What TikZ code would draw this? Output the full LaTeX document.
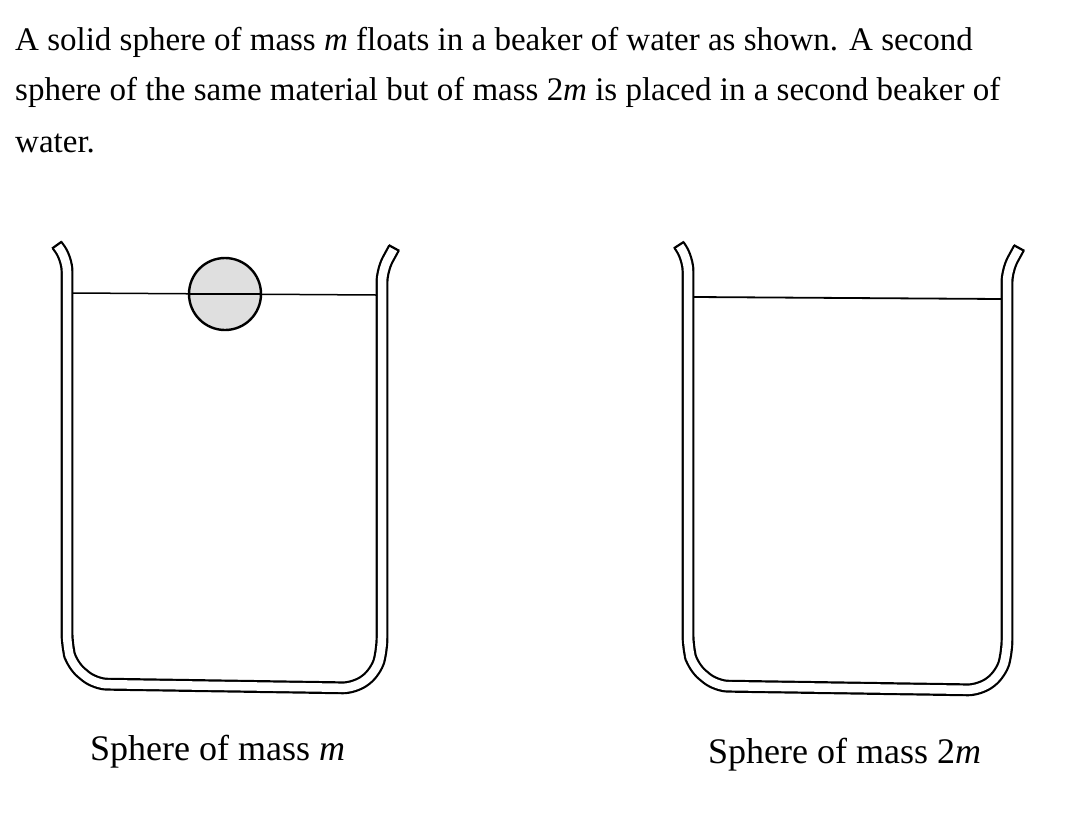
\documentclass[tikz,border=0pt]{standalone}
\usepackage{fontspec}
\setmainfont{Liberation Serif}
\usetikzlibrary{calc}
\begin{document}
\begin{tikzpicture}[x=1pt,y=-1pt,
  wall/.style={double=white,double distance=8.5pt,line width=2.2pt,line join=round},
  rimcap/.style={line width=2.2pt},
  txt/.style={anchor=west,inner sep=0pt,font=\fontsize{33}{36}\selectfont},
  lbl/.style={anchor=west,inner sep=0pt,font=\fontsize{36}{38}\selectfont}]
\useasboundingbox (0,0) rectangle (1074,814);
% left beaker
\coordinate (la) at (57,245); \coordinate (lb) at (67,259);
\coordinate (ra) at (394,248); \coordinate (rb) at (382,270);
\draw[wall,rounded corners=12pt] (la) -- (lb) -- (67,645) -- (72,665) -- (95,684) -- (355,688) -- (376,672) -- (382,650) -- (rb) -- (ra);
\draw[rimcap] ($(la)!6pt!90:(lb)$) -- ($(la)!6pt!-90:(lb)$);
\draw[rimcap] ($(ra)!6pt!90:(rb)$) -- ($(ra)!6pt!-90:(rb)$);
\draw[line width=1.5pt] (73,293) -- (376,295);
\node[circle,draw,line width=2.4pt,fill=gray!25,minimum size=72pt,inner sep=0pt] (s) at (225,294) {};
\draw[line width=1.5pt] (s.west) -- (s.east);
% right beaker
\coordinate (la2) at (679,245); \coordinate (lb2) at (688,259);
\coordinate (ra2) at (1019,248); \coordinate (rb2) at (1007,270);
\draw[wall,rounded corners=12pt] (la2) -- (lb2) -- (688,647) -- (693,667) -- (716,686) -- (980,690) -- (1001,674) -- (1007,652) -- (rb2) -- (ra2);
\draw[rimcap] ($(la2)!6pt!90:(lb2)$) -- ($(la2)!6pt!-90:(lb2)$);
\draw[rimcap] ($(ra2)!6pt!90:(rb2)$) -- ($(ra2)!6pt!-90:(rb2)$);
\draw[line width=1.8pt] (694,297) -- (1001,299);
% texts
\node[txt] (t1) at (15,42) {A solid sphere of mass \textit{m} floats in a beaker of water as shown. A second};
\node[txt] (t2) at (15,92) {sphere of the same material but of mass 2\textit{m} is placed in a second beaker of};
\node[txt] (t3) at (15,143) {water.};
\node[lbl] (l1) at (90,752) {Sphere of mass \textit{m}};
\node[lbl] (l2) at (708,755) {Sphere of mass 2\textit{m}};
\end{tikzpicture}
\end{document}
